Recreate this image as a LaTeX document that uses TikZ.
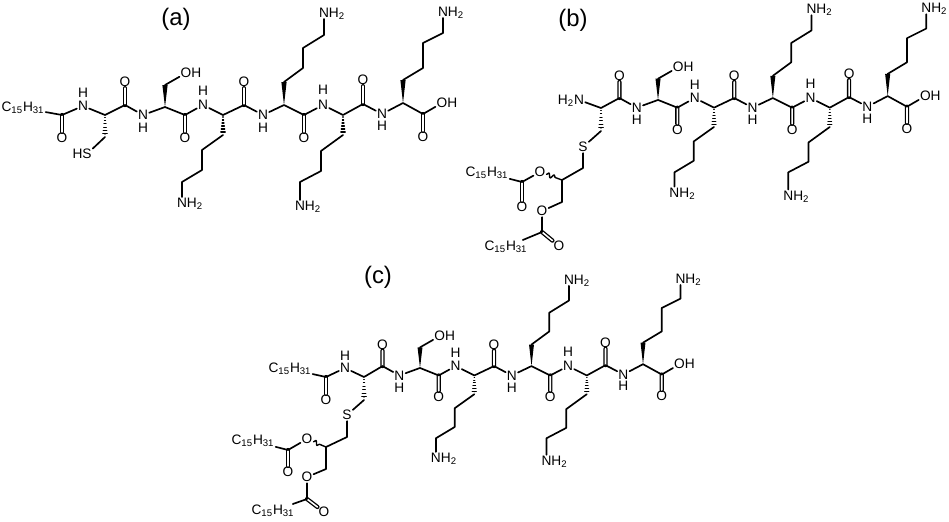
\documentclass[tikz,border=0pt]{standalone}
\usepackage{fontspec}
\setmainfont{Liberation Sans}
\usetikzlibrary{calc,decorations.pathmorphing}

\tikzset{
	atom/.style={inner sep=0.5pt, font=\fontsize{7.8}{9}\selectfont},
	bond/.style={line width=0.95pt},
	dbond/.style={line width=0.75pt, double, double distance=0.9pt},
	wavybond/.style={line width=0.8pt, decorate, decoration={snake, segment length=3.2pt, amplitude=1.2pt, post length=3pt}},
	title/.style={inner sep=0pt, font=\fontsize{13.6}{16}\selectfont},
}
\newcommand{\NHtwo}{N\rlap{\smash{H\textsubscript{2}}}}
\newcommand{\HtwoN}{\llap{\smash{H\textsubscript{2}}}N}
\newcommand{\palm}{C\textsubscript{15}H\textsubscript{31}}
\newcommand{\wedgebond}[2]{\fill (#1) -- ($(#2)!1.5pt!90:(#1)$) -- ($(#2)!1.5pt!-90:(#1)$) -- cycle;}
\newcommand{\hashbond}[2]{\foreach \pos in {0.1,0.25,0.4,0.55,0.7,0.85,1}{\draw[line width=0.6pt] ($(#1)!\pos!(#2)!\pos*1.5pt!90:(#2)$) -- ($(#1)!\pos!(#2)!\pos*1.5pt!-90:(#2)$);}}

% Ser-Lys-Lys-Lys part, the same in all three
\newcommand{\peptidetail}{
	\foreach \name/\x/\y in {c2/125/105, ca2/165/107, cb2/165/85, c3/185/115,
		ca3/223/115, cb3/223/135, cg3/202/150, cd3/202/170, ce3/182/182, c4/244/105,
		ca4/284/105, cb4/284/82, cg4/303/68, cd4/303/48, ce4/324/35, c5/304/115,
		ca5/343/115, cb5/343/135, cg5/321/151, cd5/321/171, ce5/300/182, c6/363/104,
		ca6/403/103, cb6/403/80, cg6/423/68, cd6/423/43, ce6/443/33, c7/423/114}
		{\coordinate (\name) at (\x,\y);}
	\foreach \name/\x/\y in {o2/125/82, o3/185/138, o4/244/82, o5/304/138, o6/363/80, o7/423/137}
		{\node[atom] (\name) at (\x,\y) {O};}
	\foreach \name/\x/\y in {n2/143/115, n3/203/105, n4/263/115, n5/323/105, n6/382/114}
		{\node[atom] (\name) at (\x,\y) {N};}
	\foreach \name/\x/\y in {hn2/143/128, hn3/203/91, hn4/263/128, hn5/323/90, hn6/382/126}
		{\node[atom] (\name) at (\x,\y) {H};}
	\foreach \name/\x/\y in {nz3/182/203, nz4/324/13, nz5/300/206, nz6/443/12}
		{\node[atom] (\name) at (\x,\y) {\NHtwo};}
	\node[atom] (oh2) at (186,73) {O\rlap{H}};
	\node[atom] (oh7) at (442,103) {O\rlap{H}};
	\foreach \c/\o in {c2/o2, c3/o3, c4/o4, c5/o5, c6/o6, c7/o7}
		{\draw[dbond] (\c) -- (\o);}
	\draw[bond] (c2) -- (n2) -- (ca2) -- (c3) -- (n3) -- (ca3) -- (c4) -- (n4) -- (ca4) -- (c5)
		-- (n5) -- (ca5) -- (c6) -- (n6) -- (ca6) -- (c7) -- (oh7);
	\draw[bond] (cb2) -- (oh2);
	\draw[bond] (cb3) -- (cg3) -- (cd3) -- (ce3) -- (nz3);
	\draw[bond] (cb4) -- (cg4) -- (cd4) -- (ce4) -- (nz4);
	\draw[bond] (cb5) -- (cg5) -- (cd5) -- (ce5) -- (nz5);
	\draw[bond] (cb6) -- (cg6) -- (cd6) -- (ce6) -- (nz6);
	\wedgebond{ca2}{cb2}
	\wedgebond{ca4}{cb4}
	\wedgebond{ca6}{cb6}
	\hashbond{ca3}{cb3}
	\hashbond{ca5}{cb5}
}

\begin{document}
\begin{tikzpicture}[x=0.02cm, y=-0.02cm, line cap=round, line join=round]
	\useasboundingbox (0,0) rectangle (949,521);

	\node[title] (tita) at (176,19) {(a)};
	\node[title] (titb) at (573,20) {(b)};
	\node[title] (titc) at (378,277) {(c)};

	% (a)
	\begin{scope}[name prefix=a-]
		\peptidetail
	\end{scope}
	\node[atom] (apalm) at (23,108) {\palm};
	\coordinate (ac1) at (62,115);
	\node[atom] (ao1) at (62,138) {O};
	\node[atom] (an1) at (83,106) {N};
	\node[atom] (ahn1) at (83,93) {H};
	\coordinate (aca1) at (105,115);
	\coordinate (acb1) at (105,137);
	\node[atom] (as) at (87,154) {\llap{H}S};
	\draw[dbond] (ac1) -- (ao1);
	\draw[bond] (apalm) -- (ac1) -- (an1) -- (aca1) -- (a-c2);
	\draw[bond] (acb1) -- (as);
	\hashbond{aca1}{acb1}

	% (b)
	\begin{scope}[name prefix=b-, shift={(498.8,-3.3)}, scale=0.965]
		\peptidetail
	\end{scope}
	\node[atom] (bnh) at (579,100) {\HtwoN};
	\coordinate (bca1) at (601,108);
	\coordinate (bcb1) at (601,131);
	\node[atom] (bs) at (583,147) {S};
	\coordinate (bcx) at (583,168);
	\coordinate (bcy) at (562,180);
	\coordinate (bcz) at (562,202);
	\node[atom] (bo1) at (540,172) {O};
	\coordinate (bco1) at (522,182);
	\node[atom] (bo2) at (522,207) {O};
	\node[atom] (bpalm1) at (487,173) {\palm};
	\node[atom] (bo3) at (542,211) {O};
	\coordinate (bco2) at (542,232);
	\node[atom] (bo4) at (559,246) {O};
	\node[atom] (bpalm2) at (506,247) {\palm};
	\draw[dbond] (bco1) -- (bo2);
	\draw[dbond] (bco2) -- (bo4);
	\draw[bond] (bnh) -- (bca1) -- (b-c2);
	\draw[bond] (bcb1) -- (bs) -- (bcx) -- (bcy) -- (bcz) -- (bo3) -- (bco2) -- (bpalm2);
	\draw[bond] (bo1) -- (bco1) -- (bpalm1);
	\draw[wavybond] (bo1) -- (bcy);
	\hashbond{bca1}{bcb1}

	% (c)
	\begin{scope}[name prefix=c-, shift={(265.4,267.7)}, scale=0.937]
		\peptidetail
	\end{scope}
	\node[atom] (cpalm) at (290,369) {\palm};
	\coordinate (cc1) at (326,377);
	\node[atom] (co1) at (326,400) {O};
	\node[atom] (cn1) at (345,368) {N};
	\node[atom] (chn1) at (345,356) {H};
	\coordinate (cca1) at (364,377);
	\coordinate (ccb1) at (364,400);
	\node[atom] (cs) at (347,415) {S};
	\coordinate (ccx) at (347,437);
	\coordinate (ccy) at (326,447);
	\coordinate (ccz) at (326,469);
	\node[atom] (co2) at (307,439) {O};
	\coordinate (cco1) at (288,450);
	\node[atom] (co3) at (288,472) {O};
	\node[atom] (cpalm1) at (253,441) {\palm};
	\node[atom] (co4) at (307,477) {O};
	\coordinate (cco2) at (307,499);
	\node[atom] (co5) at (324,512) {O};
	\node[atom] (cpalm2) at (273,511) {\palm};
	\draw[dbond] (cc1) -- (co1);
	\draw[dbond] (cco1) -- (co3);
	\draw[dbond] (cco2) -- (co5);
	\draw[bond] (cpalm) -- (cc1) -- (cn1) -- (cca1) -- (c-c2);
	\draw[bond] (ccb1) -- (cs) -- (ccx) -- (ccy) -- (ccz) -- (co4) -- (cco2) -- (cpalm2);
	\draw[bond] (co2) -- (cco1) -- (cpalm1);
	\draw[wavybond] (co2) -- (ccy);
	\hashbond{cca1}{ccb1}
\end{tikzpicture}
\end{document}
